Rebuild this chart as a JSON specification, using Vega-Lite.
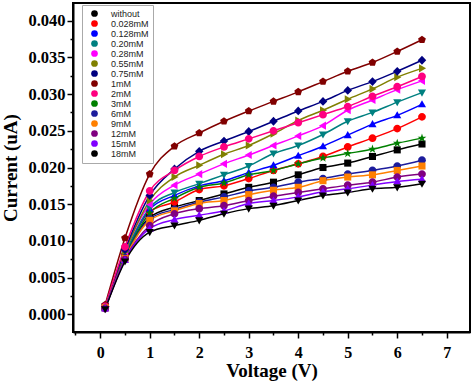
{
  "$schema": "https://vega.github.io/schema/vega-lite/v6.json",
  "width": 397,
  "height": 329,
  "autosize": {"type": "none"},
  "padding": {"left": 73, "top": 3, "right": 4, "bottom": 51},
  "background": "white",
  "config": {
    "view": {"stroke": "black", "strokeWidth": 2},
    "font": "Liberation Serif"
  },
  "data": {"values": [
    {"s":"without","v":0.1,"c":0.0010},{"s":"without","v":0.5,"c":0.0079},{"s":"without","v":1,"c":0.0132},{"s":"without","v":1.5,"c":0.0146},{"s":"without","v":2,"c":0.0155},{"s":"without","v":2.5,"c":0.0164},{"s":"without","v":3,"c":0.0173},{"s":"without","v":3.5,"c":0.0180},{"s":"without","v":4,"c":0.0190},{"s":"without","v":4.5,"c":0.0200},{"s":"without","v":5,"c":0.0206},{"s":"without","v":5.5,"c":0.0215},{"s":"without","v":6,"c":0.0224},{"s":"without","v":6.5,"c":0.0232},
    {"s":"0.028mM","v":0.1,"c":0.0009},{"s":"0.028mM","v":0.5,"c":0.0080},{"s":"0.028mM","v":1,"c":0.0140},{"s":"0.028mM","v":1.5,"c":0.0153},{"s":"0.028mM","v":2,"c":0.0170},{"s":"0.028mM","v":2.5,"c":0.0175},{"s":"0.028mM","v":3,"c":0.0185},{"s":"0.028mM","v":3.5,"c":0.0196},{"s":"0.028mM","v":4,"c":0.0205},{"s":"0.028mM","v":4.5,"c":0.0215},{"s":"0.028mM","v":5,"c":0.0228},{"s":"0.028mM","v":5.5,"c":0.0240},{"s":"0.028mM","v":6,"c":0.0253},{"s":"0.028mM","v":6.5,"c":0.0269},
    {"s":"0.128mM","v":0.1,"c":0.0009},{"s":"0.128mM","v":0.5,"c":0.0080},{"s":"0.128mM","v":1,"c":0.0143},{"s":"0.128mM","v":1.5,"c":0.0162},{"s":"0.128mM","v":2,"c":0.0175},{"s":"0.128mM","v":2.5,"c":0.0182},{"s":"0.128mM","v":3,"c":0.0193},{"s":"0.128mM","v":3.5,"c":0.0203},{"s":"0.128mM","v":4,"c":0.0216},{"s":"0.128mM","v":4.5,"c":0.0229},{"s":"0.128mM","v":5,"c":0.0244},{"s":"0.128mM","v":5.5,"c":0.0259},{"s":"0.128mM","v":6,"c":0.0271},{"s":"0.128mM","v":6.5,"c":0.0286},
    {"s":"0.20mM","v":0.1,"c":0.0010},{"s":"0.20mM","v":0.5,"c":0.0082},{"s":"0.20mM","v":1,"c":0.0145},{"s":"0.20mM","v":1.5,"c":0.0166},{"s":"0.20mM","v":2,"c":0.0178},{"s":"0.20mM","v":2.5,"c":0.0190},{"s":"0.20mM","v":3,"c":0.0202},{"s":"0.20mM","v":3.5,"c":0.0219},{"s":"0.20mM","v":4,"c":0.0230},{"s":"0.20mM","v":4.5,"c":0.0245},{"s":"0.20mM","v":5,"c":0.0263},{"s":"0.20mM","v":5.5,"c":0.0275},{"s":"0.20mM","v":6,"c":0.0289},{"s":"0.20mM","v":6.5,"c":0.0302},
    {"s":"0.28mM","v":0.1,"c":0.0010},{"s":"0.28mM","v":0.5,"c":0.0086},{"s":"0.28mM","v":1,"c":0.0150},{"s":"0.28mM","v":1.5,"c":0.0176},{"s":"0.28mM","v":2,"c":0.0191},{"s":"0.28mM","v":2.5,"c":0.0205},{"s":"0.28mM","v":3,"c":0.0217},{"s":"0.28mM","v":3.5,"c":0.0230},{"s":"0.28mM","v":4,"c":0.0243},{"s":"0.28mM","v":4.5,"c":0.0257},{"s":"0.28mM","v":5,"c":0.0278},{"s":"0.28mM","v":5.5,"c":0.0292},{"s":"0.28mM","v":6,"c":0.0306},{"s":"0.28mM","v":6.5,"c":0.0318},
    {"s":"0.55mM","v":0.1,"c":0.0010},{"s":"0.55mM","v":0.5,"c":0.0085},{"s":"0.55mM","v":1,"c":0.0155},{"s":"0.55mM","v":1.5,"c":0.0187},{"s":"0.55mM","v":2,"c":0.0203},{"s":"0.55mM","v":2.5,"c":0.0218},{"s":"0.55mM","v":3,"c":0.0230},{"s":"0.55mM","v":3.5,"c":0.0246},{"s":"0.55mM","v":4,"c":0.0264},{"s":"0.55mM","v":4.5,"c":0.0278},{"s":"0.55mM","v":5,"c":0.0293},{"s":"0.55mM","v":5.5,"c":0.0307},{"s":"0.55mM","v":6,"c":0.0323},{"s":"0.55mM","v":6.5,"c":0.0335},
    {"s":"0.75mM","v":0.1,"c":0.0011},{"s":"0.75mM","v":0.5,"c":0.0088},{"s":"0.75mM","v":1,"c":0.0162},{"s":"0.75mM","v":1.5,"c":0.0198},{"s":"0.75mM","v":2,"c":0.0222},{"s":"0.75mM","v":2.5,"c":0.0236},{"s":"0.75mM","v":3,"c":0.0249},{"s":"0.75mM","v":3.5,"c":0.0263},{"s":"0.75mM","v":4,"c":0.0277},{"s":"0.75mM","v":4.5,"c":0.0290},{"s":"0.75mM","v":5,"c":0.0305},{"s":"0.75mM","v":5.5,"c":0.0317},{"s":"0.75mM","v":6,"c":0.0331},{"s":"0.75mM","v":6.5,"c":0.0346},
    {"s":"1mM","v":0.1,"c":0.0013},{"s":"1mM","v":0.5,"c":0.0104},{"s":"1mM","v":1,"c":0.0191},{"s":"1mM","v":1.5,"c":0.0229},{"s":"1mM","v":2,"c":0.0247},{"s":"1mM","v":2.5,"c":0.0263},{"s":"1mM","v":3,"c":0.0277},{"s":"1mM","v":3.5,"c":0.0290},{"s":"1mM","v":4,"c":0.0303},{"s":"1mM","v":4.5,"c":0.0317},{"s":"1mM","v":5,"c":0.0331},{"s":"1mM","v":5.5,"c":0.0343},{"s":"1mM","v":6,"c":0.0358},{"s":"1mM","v":6.5,"c":0.0374},
    {"s":"2mM","v":0.1,"c":0.0011},{"s":"2mM","v":0.5,"c":0.0092},{"s":"2mM","v":1,"c":0.0168},{"s":"2mM","v":1.5,"c":0.0196},{"s":"2mM","v":2,"c":0.0215},{"s":"2mM","v":2.5,"c":0.0228},{"s":"2mM","v":3,"c":0.0239},{"s":"2mM","v":3.5,"c":0.0250},{"s":"2mM","v":4,"c":0.0261},{"s":"2mM","v":4.5,"c":0.0272},{"s":"2mM","v":5,"c":0.0283},{"s":"2mM","v":5.5,"c":0.0297},{"s":"2mM","v":6,"c":0.0310},{"s":"2mM","v":6.5,"c":0.0324},
    {"s":"3mM","v":0.1,"c":0.0009},{"s":"3mM","v":0.5,"c":0.0078},{"s":"3mM","v":1,"c":0.0138},{"s":"3mM","v":1.5,"c":0.0158},{"s":"3mM","v":2,"c":0.0173},{"s":"3mM","v":2.5,"c":0.0179},{"s":"3mM","v":3,"c":0.0190},{"s":"3mM","v":3.5,"c":0.0196},{"s":"3mM","v":4,"c":0.0205},{"s":"3mM","v":4.5,"c":0.0213},{"s":"3mM","v":5,"c":0.0219},{"s":"3mM","v":5.5,"c":0.0225},{"s":"3mM","v":6,"c":0.0233},{"s":"3mM","v":6.5,"c":0.0240},
    {"s":"6mM","v":0.1,"c":0.0009},{"s":"6mM","v":0.5,"c":0.0077},{"s":"6mM","v":1,"c":0.0130},{"s":"6mM","v":1.5,"c":0.0143},{"s":"6mM","v":2,"c":0.0153},{"s":"6mM","v":2.5,"c":0.0160},{"s":"6mM","v":3,"c":0.0168},{"s":"6mM","v":3.5,"c":0.0173},{"s":"6mM","v":4,"c":0.0180},{"s":"6mM","v":4.5,"c":0.0185},{"s":"6mM","v":5,"c":0.0191},{"s":"6mM","v":5.5,"c":0.0196},{"s":"6mM","v":6,"c":0.0202},{"s":"6mM","v":6.5,"c":0.0210},
    {"s":"9mM","v":0.1,"c":0.0009},{"s":"9mM","v":0.5,"c":0.0076},{"s":"9mM","v":1,"c":0.0128},{"s":"9mM","v":1.5,"c":0.0141},{"s":"9mM","v":2,"c":0.0151},{"s":"9mM","v":2.5,"c":0.0155},{"s":"9mM","v":3,"c":0.0163},{"s":"9mM","v":3.5,"c":0.0169},{"s":"9mM","v":4,"c":0.0173},{"s":"9mM","v":4.5,"c":0.0182},{"s":"9mM","v":5,"c":0.0187},{"s":"9mM","v":5.5,"c":0.0190},{"s":"9mM","v":6,"c":0.0196},{"s":"9mM","v":6.5,"c":0.0202},
    {"s":"12mM","v":0.1,"c":0.0008},{"s":"12mM","v":0.5,"c":0.0075},{"s":"12mM","v":1,"c":0.0121},{"s":"12mM","v":1.5,"c":0.0137},{"s":"12mM","v":2,"c":0.0144},{"s":"12mM","v":2.5,"c":0.0148},{"s":"12mM","v":3,"c":0.0155},{"s":"12mM","v":3.5,"c":0.0161},{"s":"12mM","v":4,"c":0.0166},{"s":"12mM","v":4.5,"c":0.0171},{"s":"12mM","v":5,"c":0.0176},{"s":"12mM","v":5.5,"c":0.0180},{"s":"12mM","v":6,"c":0.0187},{"s":"12mM","v":6.5,"c":0.0191},
    {"s":"15mM","v":0.1,"c":0.0008},{"s":"15mM","v":0.5,"c":0.0074},{"s":"15mM","v":1,"c":0.0117},{"s":"15mM","v":1.5,"c":0.0129},{"s":"15mM","v":2,"c":0.0135},{"s":"15mM","v":2.5,"c":0.0141},{"s":"15mM","v":3,"c":0.0151},{"s":"15mM","v":3.5,"c":0.0155},{"s":"15mM","v":4,"c":0.0160},{"s":"15mM","v":4.5,"c":0.0167},{"s":"15mM","v":5,"c":0.0171},{"s":"15mM","v":5.5,"c":0.0176},{"s":"15mM","v":6,"c":0.0181},{"s":"15mM","v":6.5,"c":0.0184},
    {"s":"18mM","v":0.1,"c":0.0007},{"s":"18mM","v":0.5,"c":0.0072},{"s":"18mM","v":1,"c":0.0112},{"s":"18mM","v":1.5,"c":0.0121},{"s":"18mM","v":2,"c":0.0128},{"s":"18mM","v":2.5,"c":0.0137},{"s":"18mM","v":3,"c":0.0144},{"s":"18mM","v":3.5,"c":0.0148},{"s":"18mM","v":4,"c":0.0155},{"s":"18mM","v":4.5,"c":0.0162},{"s":"18mM","v":5,"c":0.0166},{"s":"18mM","v":5.5,"c":0.0171},{"s":"18mM","v":6,"c":0.0173},{"s":"18mM","v":6.5,"c":0.0178}
  ]},
  "encoding": {
    "x": {
      "field": "v", "type": "quantitative",
      "scale": {"domain": [-0.55, 7.47], "nice": false, "zero": false},
      "axis": {
        "title": "Voltage (V)",
        "values": [-0.5, 0, 0.5, 1, 1.5, 2, 2.5, 3, 3.5, 4, 4.5, 5, 5.5, 6, 6.5, 7],
        "format": "~f",
        "labelExpr": "round(datum.value*2) % 2 != 0 ? '' : datum.label",
        "tickSize": {"condition": {"test": "round(datum.value*2) % 2 != 0", "value": 3}, "value": 6},
        "tickWidth": 1.5, "tickColor": "black",
        "domainWidth": 2, "domainColor": "black",
        "grid": false, "labelFlush": false, "labelOverlap": false,
        "labelFont": "Liberation Serif", "labelFontWeight": "bold", "labelFontSize": 16, "labelColor": "black", "labelPadding": 6,
        "titleFont": "Liberation Serif", "titleFontWeight": "bold", "titleFontSize": 19, "titleColor": "black", "titlePadding": 1
      }
    },
    "y": {
      "field": "c", "type": "quantitative",
      "scale": {"domain": [-0.0024, 0.0424], "nice": false, "zero": false},
      "axis": {
        "title": "Current (uA)",
        "values": [0, 0.0025, 0.005, 0.0075, 0.01, 0.0125, 0.015, 0.0175, 0.02, 0.0225, 0.025, 0.0275, 0.03, 0.0325, 0.035, 0.0375, 0.04],
        "format": ".3f",
        "labelExpr": "round(datum.value*2000) % 2 != 0 ? '' : datum.label",
        "tickSize": {"condition": {"test": "round(datum.value*2000) % 2 != 0", "value": 3}, "value": 6},
        "tickWidth": 1.5, "tickColor": "black",
        "domainWidth": 2, "domainColor": "black",
        "grid": false, "labelFlush": false, "labelOverlap": false,
        "labelFont": "Liberation Serif", "labelFontWeight": "bold", "labelFontSize": 16.5, "labelColor": "black", "labelPadding": 2,
        "titleFont": "Liberation Serif", "titleFontWeight": "bold", "titleFontSize": 19, "titleColor": "black", "titlePadding": 7
      }
    }
  },
  "layer": [
    {
      "mark": {"type": "line", "interpolate": "monotone", "strokeWidth": 1.5},
      "encoding": {
        "stroke": {
          "field": "s", "type": "nominal",
          "scale": {
            "domain": ["18mM","15mM","12mM","9mM","6mM","3mM","2mM","1mM","0.75mM","0.55mM","0.28mM","0.20mM","0.128mM","0.028mM","without"],
            "range": ["#000000","#8000FF","#800080","#FF8000","#1C1C9C","#008000","#FF0080","#800000","#000080","#808000","#FF00FF","#008080","#0000FF","#FF0000","#000000"]
          },
          "legend": null
        }
      }
    },
    {
      "mark": {"type": "point", "filled": true, "size": 50, "opacity": 1},
      "encoding": {
        "color": {
          "field": "s", "type": "nominal",
          "scale": {
            "domain": ["without","0.028mM","0.128mM","0.20mM","0.28mM","0.55mM","0.75mM","1mM","2mM","3mM","6mM","9mM","12mM","15mM","18mM"],
            "range": ["#000000","#FF0000","#0000FF","#008080","#FF00FF","#808000","#000080","#800000","#FF0080","#008000","#1C1C9C","#FF8000","#800080","#8000FF","#000000"]
          },
          "legend": {
            "orient": "none", "legendX": 9, "legendY": 2, "title": null,
            "labelFont": "Liberation Sans", "labelFontSize": 9, "labelColor": "#222222",
            "symbolSize": 45, "strokeColor": "#aaaaaa", "padding": 4, "rowPadding": 0,
            "labelOffset": 12, "symbolOffset": 4,
            "encode": {"symbols": {"update": {
              "shape": {"signal": "'M-3.1,0H3.1' + scale('shape', datum.value)"},
              "fill": {"signal": "scale('color', datum.value)"},
              "stroke": {"signal": "scale('color', datum.value)"},
              "strokeWidth": {"value": 1.5},
              "opacity": {"value": 1}
            }}}
          }
        },
        "shape": {
          "field": "s", "type": "nominal",
          "legend": null,
          "scale": {
            "domain": ["18mM","15mM","12mM","9mM","6mM","3mM","2mM","1mM","0.75mM","0.55mM","0.28mM","0.20mM","0.128mM","0.028mM","without"],
            "range": [
              "M0,1.15L1.15,-0.85H-1.15Z",
              "M0,-1.15L1.15,0.85H-1.15Z",
              "M1.1,0C1.1,0.61,0.61,1.1,0,1.1C-0.61,1.1,-1.1,0.61,-1.1,0C-1.1,-0.61,-0.61,-1.1,0,-1.1C0.61,-1.1,1.1,-0.61,1.1,0Z",
              "M-1,-1H1V1H-1Z",
              "M1.1,0C1.1,0.61,0.61,1.1,0,1.1C-0.61,1.1,-1.1,0.61,-1.1,0C-1.1,-0.61,-0.61,-1.1,0,-1.1C0.61,-1.1,1.1,-0.61,1.1,0Z",
              "M0,-1.3L0.294,-0.405L1.236,-0.402L0.476,0.155L0.764,1.052L0,0.5L-0.764,1.052L-0.476,0.155L-1.236,-0.402L-0.294,-0.405Z",
              "M1.1,0C1.1,0.61,0.61,1.1,0,1.1C-0.61,1.1,-1.1,0.61,-1.1,0C-1.1,-0.61,-0.61,-1.1,0,-1.1C0.61,-1.1,1.1,-0.61,1.1,0Z",
              "M0,-1.15L1.094,-0.355L0.676,0.93L-0.676,0.93L-1.094,-0.355Z",
              "M0,-1.25L1.2,0L0,1.25L-1.2,0Z",
              "M1.15,0L-0.85,-1.15V1.15Z",
              "M-1.15,0L0.85,-1.15V1.15Z",
              "M0,1.15L1.15,-0.85H-1.15Z",
              "M0,-1.15L1.15,0.85H-1.15Z",
              "M1.1,0C1.1,0.61,0.61,1.1,0,1.1C-0.61,1.1,-1.1,0.61,-1.1,0C-1.1,-0.61,-0.61,-1.1,0,-1.1C0.61,-1.1,1.1,-0.61,1.1,0Z",
              "M-1,-1H1V1H-1Z"
            ]
          }
        }
      }
    }
  ]
}
